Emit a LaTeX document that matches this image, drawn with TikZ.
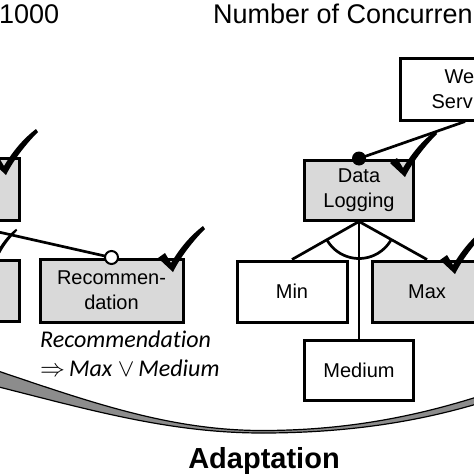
\documentclass[tikz,border=0pt]{standalone}
\usepackage{fontspec}
\setmainfont{Liberation Sans}
\newfontfamily\notefont[Ligatures=NoCommon]{Carlito}
\usetikzlibrary{calc}

\tikzset{
  feature/.style={draw, line width=3pt, minimum width=110pt, minimum height=61pt,
    inner sep=0pt, align=center, font=\fontsize{20}{25}\selectfont},
  chosen/.style={feature, fill=black!15},
  conn/.style={line width=2.7pt},
  note/.style={anchor=base west, inner sep=0pt, font=\notefont\itshape\fontsize{24}{28}\selectfont},
  tick/.pic={\fill (-12,-12) -- (-5,-17) -- (1,-7) .. controls (10,-22) and (20,-34) .. (33,-44)
    -- (35,-41) .. controls (22,-28) and (10,-12) .. (3,2) -- cycle;}
}

\begin{document}
\begin{tikzpicture}[x=1pt,y=-1pt]

\useasboundingbox (0,0) rectangle (474,474);
\clip (0,0) rectangle (474,474);

%band
\filldraw[fill=black!45, line width=1.2pt]
  (-5,386) .. controls (90,410) and (170,433) .. (262,433)
  .. controls (350,433) and (420,421) .. (480,403)
  -- (480,396) .. controls (420,415) and (350,430.5) .. (262,430.5)
  .. controls (170,430.5) and (90,402) .. (-5,370) -- cycle;

%header
\node[anchor=base west, inner sep=0pt, font=\fontsize{27}{30}\selectfont] (load) at (-1,23) {1000};
\node[anchor=base west, inner sep=0pt, font=\fontsize{27}{30}\selectfont] (axis) at (213,23) {Number of Concurren};

%boxes
\node[feature, minimum width=130pt, minimum height=62pt] (web) at (465,89) {Web\\Service};
\node[chosen, minimum width=109pt, minimum height=60pt] (log) at (359,190) {Data\\Logging};
\node[feature] (min) at (292,291.5) {Min};
\node[chosen] (max) at (427,291.5) {Max};
\node[feature, minimum width=109pt, minimum height=60pt] (med) at (359,370) {Medium};
\node[chosen, minimum width=134pt, minimum height=62pt] (lefttop) at (-48,189) {};
\node[chosen] (leftbot) at (-36,291) {};
\node[chosen, minimum width=143pt, minimum height=63pt] (rec) at (111.5,290.5) {Recommen-\\dation};

%links
\draw[conn] (lefttop.south) -- (rec.north);
\draw[conn] (web.south) -- (log.north);
\draw[conn] (log.south) -- (min.north);
\draw[conn] (log.south) -- (max.north);
\draw[conn] (log.south) -- (med.north);
\draw[conn] ($(log.south)+(149:37)$) arc (149:31:37);
\fill (log.north) circle (7);
\draw[line width=2pt, fill=white] (rec.north) circle (6.5);

%ticks
\pic at (3,173) {tick};
\pic[scale=0.55] at (-2,253) {tick};
\pic at (170,270) {tick};
\pic at (402,175) {tick};
\pic at (452,272) {tick};

%constraint
\node[note] (rule1) at (40,347) {Recommendation};
\node[note] (rule2) at (40,376) {{\fontsize{26}{28}\selectfont$\Rightarrow$}\,Max $\vee$\,Medium};

%labels
\node[anchor=base, inner sep=0pt, font=\bfseries\fontsize{29}{32}\selectfont] (title) at (264,468) {Adaptation};
\end{tikzpicture}
\end{document}
